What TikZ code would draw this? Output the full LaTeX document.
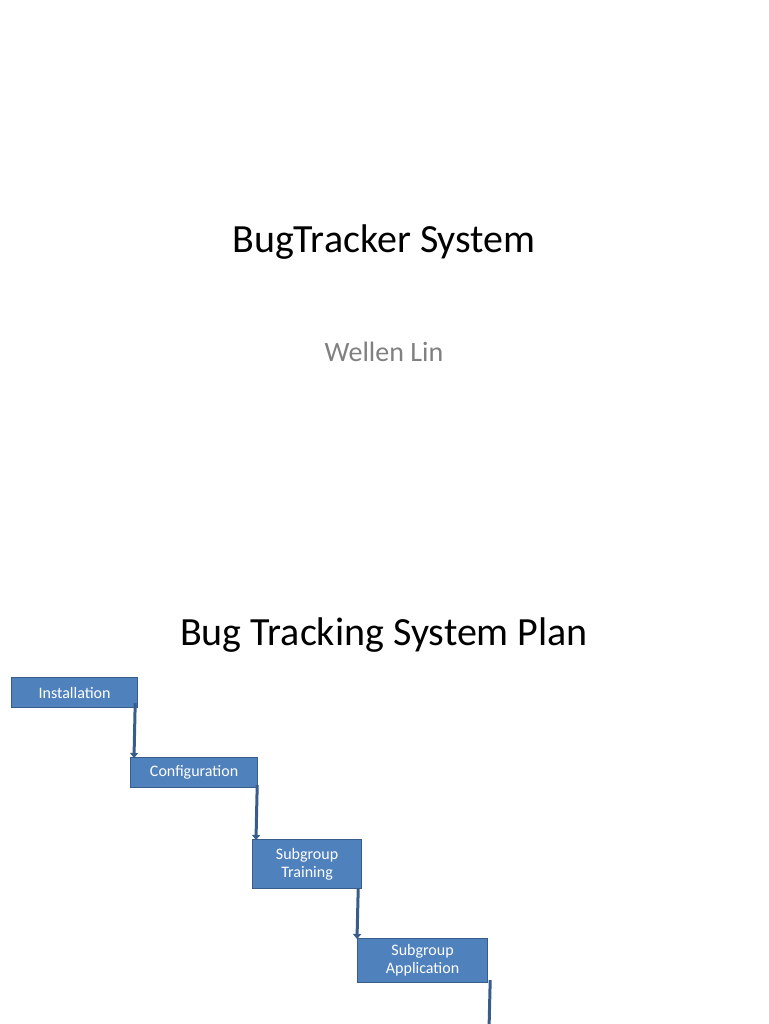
\documentclass[tikz,border=0pt]{standalone}
\usepackage{fontspec}
\setmainfont{Carlito}
\usetikzlibrary{arrows.meta}
\definecolor{boxfill}{HTML}{4F81BD}
\definecolor{boxline}{HTML}{385D8A}
\begin{document}
\begin{tikzpicture}[x=1pt,y=-1pt,
  box/.style={draw=boxline,line width=1.2pt,fill=boxfill,text=white,font=\fontsize{16}{18}\selectfont,align=center,inner sep=0pt,anchor=north west},
  flow/.style={draw=boxline,line width=3pt,-{Triangle[width=8pt,length=5pt]}}]
\useasboundingbox (0,0) rectangle (768,1024);
\node (t1) at (384,242) {\fontsize{40}{44}\selectfont BugTracker System};
\node[text=gray] (t2) at (384,352) {\fontsize{28}{32}\selectfont Wellen Lin};
\node (t3) at (384,635) {\fontsize{40}{44}\selectfont Bug Tracking System Plan};
\node[box,minimum width=126pt,minimum height=30pt] (a) at (11,677) {Installation};
\node[box,minimum width=127pt,minimum height=30pt] (b) at (130,757) {Configuration};
\node[box,minimum width=109pt,minimum height=49pt] (c) at (252,839) {Subgroup\\Training};
\node[box,minimum width=130pt,minimum height=44pt] (d) at (357,938) {Subgroup\\Application};
\coordinate (e) at (489,1030);
\draw[flow] ([xshift=-3pt,yshift=5pt]a.south east) -- ([xshift=4pt,yshift=-1pt]b.north west);
\draw[flow] ([xshift=-1pt,yshift=3pt]b.south east) -- ([xshift=4pt,yshift=-1pt]c.north west);
\draw[flow] ([xshift=-4pt]c.south east) -- ([yshift=-1pt]d.north west);
\draw[boxline,line width=3pt] ([xshift=2pt,yshift=3pt]d.south east) -- (e);
\end{tikzpicture}
\end{document}
